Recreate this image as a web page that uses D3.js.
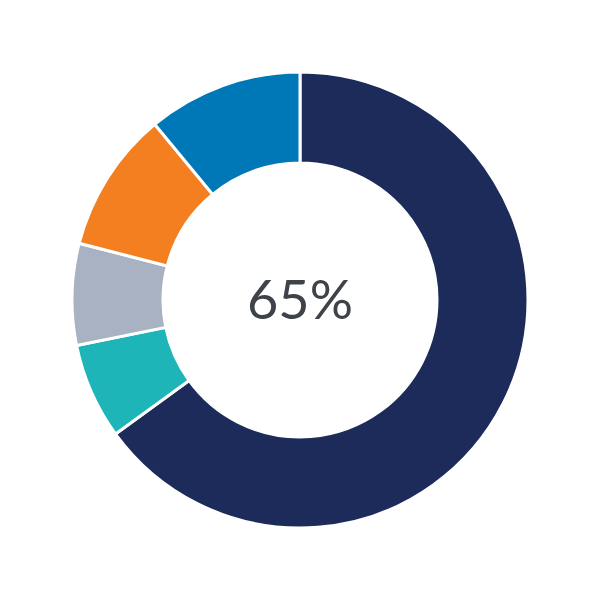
<!DOCTYPE html>
<html>
<head>
<meta charset="utf-8">
<script src="https://cdn.jsdelivr.net/npm/d3@7"></script>
<style>
html,body{margin:0;padding:0;background:#fff;}
svg{display:block;}
</style>
</head>
<body>
<svg id="chart" width="600" height="600"></svg>
<script>
const categories = ["A", "B", "C", "D", "E"];
const values = [65, 6.8, 7.2, 10, 11];
const colors = ["#1c2b5a", "#1db5b8", "#a8b2c2", "#f37f21", "#0077b6"];
const centerLabel = "65%";

const svg = d3.select("#chart");
const g = svg.append("g").attr("transform", "translate(300,300)");

const pie = d3.pie().sort(null).value((d, i) => values[i]);
const arc = d3.arc().innerRadius(137).outerRadius(228);

g.selectAll("path")
  .data(pie(categories))
  .join("path")
  .attr("d", arc)
  .attr("fill", (d, i) => colors[i])
  .attr("stroke", "#fff")
  .attr("stroke-width", 3);

g.append("text")
  .attr("text-anchor", "middle")
  .attr("dy", "0.35em")
  .attr("font-family", "Lato, sans-serif")
  .attr("font-weight", 400)
  .attr("font-size", 54)
  .attr("fill", "#3d4349")
  .text(centerLabel);
</script>
</body>
</html>
